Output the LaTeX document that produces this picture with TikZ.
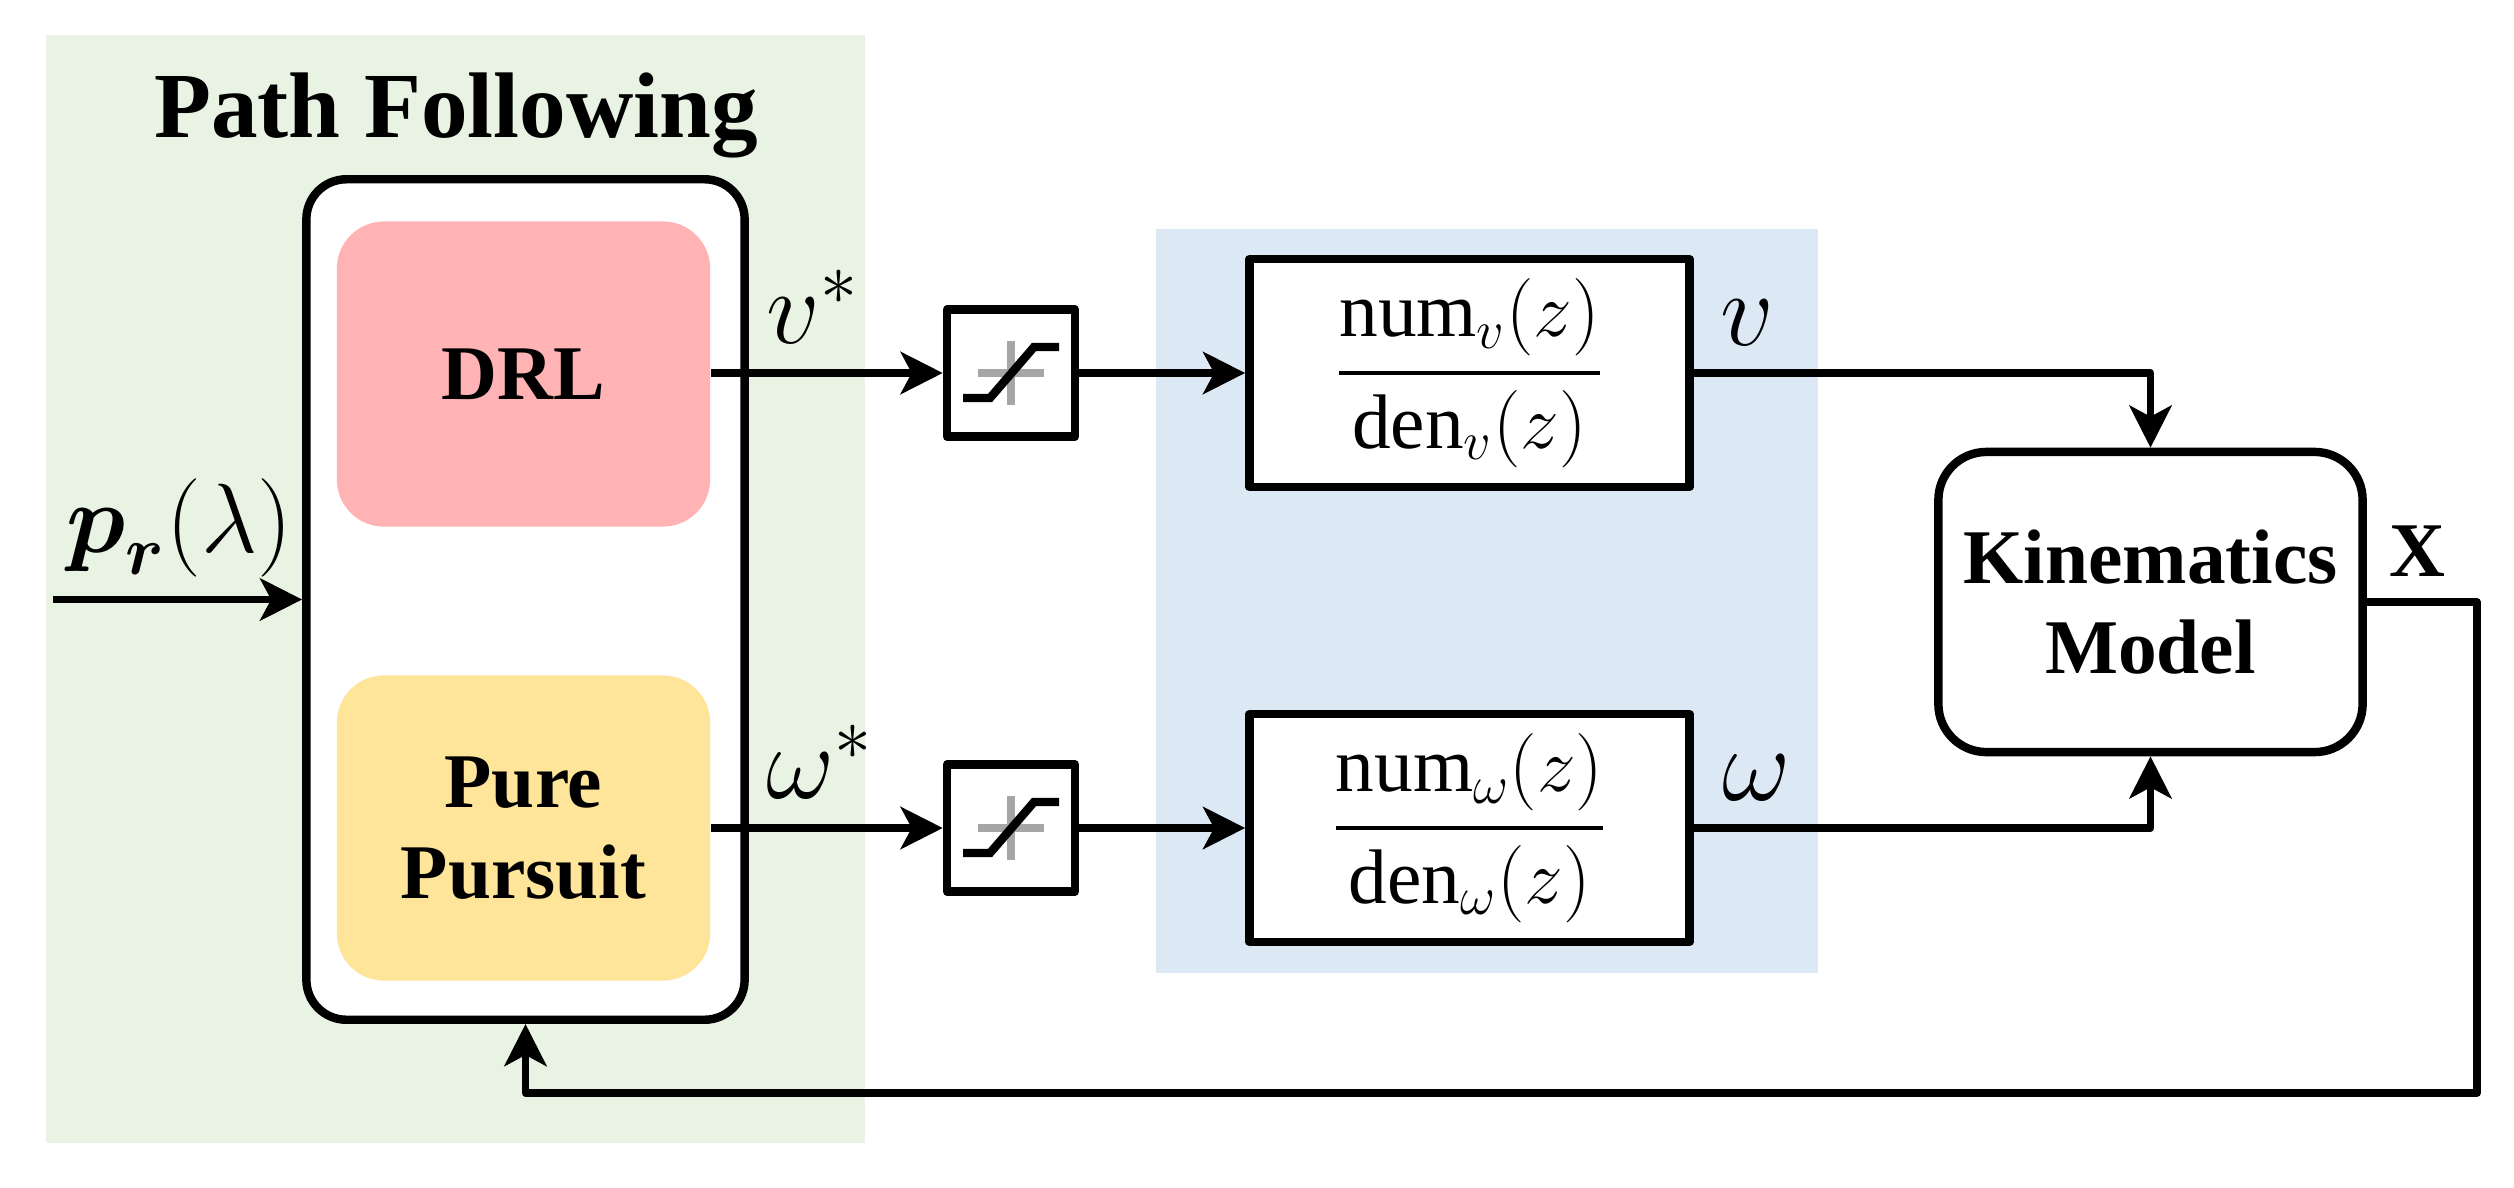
\RequirePackage{fix-cm}
\documentclass[tikz,border=0pt]{standalone}
\usepackage{amsmath}
\usepackage{fontspec}
\setmainfont{Liberation Serif}
\usetikzlibrary{arrows.meta}

\definecolor{pathgreen}{HTML}{E9F3E4}
\definecolor{filterblue}{HTML}{DDE8F5}
\definecolor{drlpink}{HTML}{FFB3B5}
\definecolor{pursuityellow}{HTML}{FEE599}

\newcommand{\numden}[1]{$\genfrac{}{}{1.4pt}{0}{\mathrm{num}_{#1}(z)}{\mathrm{den}_{#1}(z)}$}

\tikzset{
    block/.style={draw, line width=2.4pt, line join=round, fill=white, inner sep=0pt},
    softblock/.style={rounded corners=0.47cm, inner sep=0pt, minimum width=3.73cm, minimum height=3.05cm,
        font=\fontsize{22}{25.8}\selectfont\bfseries, align=center},
    sigline/.style={line width=2.2pt, line join=round, -{Stealth[length=0.42cm,width=0.42cm,inset=0.11cm]}},
    siglabel/.style={anchor=base west, inner sep=0pt, font=\fontsize{30}{36}\selectfont},
}

\begin{document}
\begin{tikzpicture}[x=0.01cm,y=-0.01cm]
    \useasboundingbox (0,0) rectangle (2514,1187);

    % backgrounds
    \fill[pathgreen] (46,35) rectangle (865,1143);
    \fill[filterblue] (1156,229) rectangle (1818,973);

    \node[anchor=base, inner sep=0pt, font=\fontsize{26.5}{30}\selectfont\bfseries] (title) at (456,137) {Path Following};

    % blocks
    \node[block, rounded corners=0.4cm, minimum width=4.38cm, minimum height=8.4cm] (pathbox) at (525.5,599.5) {};
    \node[softblock, fill=drlpink] (drl) at (523.5,374) {DRL};
    \node[softblock, fill=pursuityellow] (pursuit) at (523.5,828) {Pure\\Pursuit};

    \node[block, minimum width=1.28cm, minimum height=1.27cm] (sat1) at (1011,373) {};
    \node[block, minimum width=1.28cm, minimum height=1.27cm] (sat2) at (1011,828) {};

    \node[block, font=\fontsize{22}{26}\selectfont, minimum width=4.4cm, minimum height=2.28cm] (tf1) at (1469.5,373) {\numden{v}};
    \node[block, font=\fontsize{22}{26}\selectfont, minimum width=4.4cm, minimum height=2.28cm] (tf2) at (1469.5,828) {\numden{\omega}};

    \node[block, rounded corners=0.48cm, minimum width=4.24cm, minimum height=3cm, align=center,
        font=\fontsize{22}{25.8}\selectfont\bfseries] (kin) at (2150.5,602) {Kinematics\\Model};

    % saturation symbols
    \foreach \s in {sat1,sat2} {
        \begin{scope}[shift={(\s.center)}]
            \draw[line width=2.2pt, color=black!35] (0,-32) -- (0,32);
            \draw[line width=2.2pt, color=black!35] (-33,0) -- (33,0);
            \draw[line width=2.4pt] (-48,25) -- (-21,25) -- (23,-26) -- (48,-26);
        \end{scope}
    }

    % signals
    \coordinate (input) at (53,599.5);
    \coordinate (fbright) at (2477,1093);

    \draw[sigline] (input) -- (pathbox.west);
    \draw[sigline] (sat1.west -| drl.east) -- (sat1.west);
    \draw[sigline] (pursuit.east) -- (sat2.west);
    \draw[sigline] (sat1.east) -- (tf1.west);
    \draw[sigline] (sat2.east) -- (tf2.west);
    \draw[sigline] (tf1.east) -| (kin.north);
    \draw[sigline] (tf2.east) -| (kin.south);
    \draw[sigline] (kin.east) -| (fbright) -| (pathbox.south);

    % labels
    \node[siglabel, font=\fontsize{28}{33}\selectfont] (prlabel) at (66,552) {$\boldsymbol{p}_{\boldsymbol{r}}(\lambda)$};
    \node[siglabel] (vstar) at (766,343) {$v^*$};
    \node[siglabel] (wstar) at (766,798) {$\omega^*$};
    \node[siglabel] (vlabel) at (1720,345) {$v$};
    \node[siglabel] (wlabel) at (1722,800) {$\omega$};
    \node[anchor=base, inner sep=0pt, font=\fontsize{22}{25}\selectfont\bfseries] (xlabel) at (2417,576) {X};
\end{tikzpicture}
\end{document}
